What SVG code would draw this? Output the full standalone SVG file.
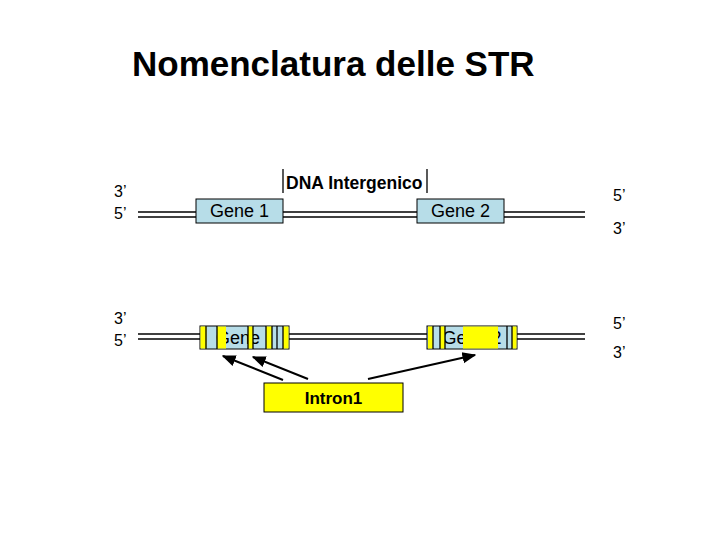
<svg xmlns="http://www.w3.org/2000/svg" width="720" height="540" viewBox="0 0 720 540">
<defs>
<style>
text{font-family:"Liberation Sans",Arial,sans-serif;fill:#000}
.ln{stroke:#000;stroke-width:1.3;fill:none}
.gene{fill:#b7dde8;stroke:#000;stroke-width:1}
.y{fill:#ffff00}
.ys{fill:#ffff00;stroke:#000;stroke-width:1}
</style>
<marker id="ah" viewBox="0 0 10 10" refX="9" refY="5" markerWidth="7" markerHeight="7" orient="auto"><path d="M0,1 L10,5 L0,9 z" fill="#000"/></marker>
</defs>
<rect width="720" height="540" fill="#fff"/>
<text x="132" y="76" font-size="35" font-weight="bold">Nomenclatura delle STR</text>
<g id="connectors">
<line class="ln" x1="138" y1="212" x2="585" y2="212"/>
<line class="ln" x1="138" y1="217" x2="585" y2="217"/>
<line class="ln" x1="138" y1="334" x2="585" y2="334"/>
<line class="ln" x1="138" y1="339" x2="585" y2="339"/>
<line class="ln" x1="283" y1="169" x2="283" y2="193"/>
<line class="ln" x1="427" y1="169" x2="427" y2="193"/>
<line stroke="#000" stroke-width="2" x1="283" y1="380" x2="223" y2="356" marker-end="url(#ah)"/>
<line stroke="#000" stroke-width="2" x1="308" y1="379" x2="253" y2="357" marker-end="url(#ah)"/>
<line stroke="#000" stroke-width="2" x1="368" y1="379" x2="475" y2="355" marker-end="url(#ah)"/>
</g>
<g id="labels">
<text x="114" y="197" font-size="16">3’</text>
<text x="114" y="219" font-size="16">5’</text>
<text x="613" y="201" font-size="16">5’</text>
<text x="613" y="234" font-size="16">3’</text>
<text x="114" y="324" font-size="16">3’</text>
<text x="114" y="346" font-size="16">5’</text>
<text x="613" y="329" font-size="16">5’</text>
<text x="613" y="358" font-size="16">3’</text>
</g>
<g id="dna-intergenico"><text x="286" y="189" font-size="17.5" font-weight="bold">DNA Intergenico</text></g>
<g id="gene1"><rect class="gene" x="196" y="199" width="87" height="24"/><text x="239.5" y="217" font-size="18" text-anchor="middle">Gene 1</text></g>
<g id="gene2"><rect class="gene" x="417" y="199" width="87" height="24"/><text x="460.5" y="217" font-size="18" text-anchor="middle">Gene 2</text></g>
<g id="gene-lower1">
<rect class="gene" x="200" y="326" width="89" height="23"/>
<text x="238" y="344" font-size="18" text-anchor="middle">Gene</text>
<rect class="y" x="200.5" y="326.5" width="6" height="22"/>
<rect class="y" x="217" y="326.5" width="9" height="22"/>
<rect class="y" x="248" y="326.5" width="5" height="22"/>
<rect class="y" x="266" y="326.5" width="6" height="22"/>
<rect class="y" x="283" y="326.5" width="5.5" height="22"/>
<g class="ln" stroke-width="1"><line x1="206" y1="326" x2="206" y2="349"/><line x1="217" y1="326" x2="217" y2="349"/><line x1="248" y1="326" x2="248" y2="349"/><line x1="253" y1="326" x2="253" y2="349"/><line x1="266" y1="326" x2="266" y2="349"/><line x1="272" y1="326" x2="272" y2="349"/><line x1="277" y1="326" x2="277" y2="349"/><line x1="283" y1="326" x2="283" y2="349"/></g>
</g>
<g id="gene-lower2">
<rect class="gene" x="427" y="326" width="90" height="23"/>
<text x="472" y="344" font-size="18" text-anchor="middle">Gene 2</text>
<rect class="y" x="428" y="326.5" width="5" height="22"/>
<rect class="y" x="440" y="326.5" width="5" height="22"/>
<rect class="y" x="463" y="326.5" width="35" height="22"/>
<rect class="y" x="512" y="326.5" width="4.5" height="22"/>
<g class="ln" stroke-width="1"><line x1="433" y1="326" x2="433" y2="349"/><line x1="440" y1="326" x2="440" y2="349"/><line x1="445" y1="326" x2="445" y2="349"/><line x1="507" y1="326" x2="507" y2="349"/><line x1="512" y1="326" x2="512" y2="349"/></g>
</g>
<g id="intron1"><rect class="ys" x="264" y="383" width="139" height="29"/><text x="333.5" y="404" font-size="17" font-weight="bold" text-anchor="middle">Intron1</text></g>
</svg>
